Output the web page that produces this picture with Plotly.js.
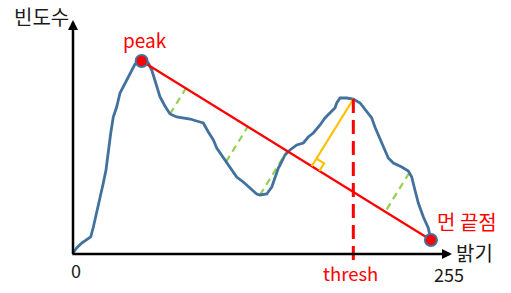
<!DOCTYPE html>
<html><head><meta charset="utf-8">
<script src="https://cdn.plot.ly/plotly-3.0.1.min.js"></script>
<style>html,body{margin:0;padding:0;background:#fff}#chart{width:511px;height:293px}</style>
</head><body><div id="chart"></div>
<script>
// ---- data ----
const brightness = [0,2.6,6.2,9.8,12.6,14.5,16.9,19.2,21.6,23.5,25.1,26.9,28.7,31.1,33.5,37.0,40.6,44.2,48.9,53.6,56.1,59.6,62.0,65.5,69.1,73.9,83.4,90.5,92.8,96.4,100.0,102.4,105.9,109.5,113.1,116.6,121.3,126.1,130.9,133.2,138.0,141.6,143.9,146.3,147.5,151.0,154.6,159.4,164.1,167.6,171.2,176.0,179.5,183.1,186.6,187.9,190.2,195.0,199.7,204.5,209.2,212.8,215.1,217.5,219.9,222.3,224.6,228.2,234.2,238.9,241.3,243.6,246.0,249.6,253.1,255];
const frequency  = [1,6,11,14,17,27,41,57,71,84,104,121,137,147,161,171,181,190,193,191,184,167,157,148,140,137,135,132,131,122,114,106,99,91,84,77,72,66,60,59,60,67,77,86,89,99,104,109,111,117,121,129,136,141,146,151,156,156,155,151,142,136,127,119,111,102,96,91,87,83,77,64,51,37,26,14];
const thresh = 199.7;
const perpFrom = [69.1, 109.0, 133.2, 239.6];
const xTickVals = [0, 255];
const xTickText = ['0', '255'];
const xTitle = '밝기';
const yTitle = '빈도수';
const peakLabel = 'peak';
const endLabel = '먼 끝점';
const threshLabel = 'thresh';

// ---- geometry ----
const W=511, H=293, L=73, R=59, T=20, B=23;
const xRange=[0,270], yRange=[-16,234];
const PW=W-L-R, PH=H-T-B;
const sx=PW/(xRange[1]-xRange[0]);
const sy=PH/(yRange[1]-yRange[0]);
const toPx=(x,y)=>[L+(x-xRange[0])*sx, T+(yRange[1]-y)*sy];
const toData=(px,py)=>[xRange[0]+(px-L)/sx, yRange[1]-(py-T)/sy];
function interp(x){
  for(let i=0;i<brightness.length-1;i++){
    if(x>=brightness[i]&&x<=brightness[i+1]){
      const t=(x-brightness[i])/(brightness[i+1]-brightness[i]);
      return frequency[i]+t*(frequency[i+1]-frequency[i]);
    }
  }
  return frequency[frequency.length-1];
}
let pk=0; frequency.forEach((v,i)=>{if(v>frequency[pk])pk=i;});
const en=brightness.length-1;
const A=toPx(brightness[pk],frequency[pk]), Bp=toPx(brightness[en],frequency[en]);
const d=[Bp[0]-A[0],Bp[1]-A[1]], dl=Math.hypot(d[0],d[1]);
function foot(x,y){
  const P=toPx(x,y);
  const t=((P[0]-A[0])*d[0]+(P[1]-A[1])*d[1])/(dl*dl);
  return [A[0]+t*d[0],A[1]+t*d[1]];
}
const gx=[],gy=[];
perpFrom.forEach(b=>{
  const y=interp(b); const F=toData(...foot(b,y));
  gx.push(b,F[0],null); gy.push(y,F[1],null);
});
const ty=interp(thresh);
const Fp=foot(thresh,ty); const Fd=toData(...Fp);
const Pp=toPx(thresh,ty);
const uy=[(Pp[0]-Fp[0]),(Pp[1]-Fp[1])]; const ul=Math.hypot(...uy); uy[0]/=ul; uy[1]/=ul;
const ur=[d[0]/dl,d[1]/dl];
const s=9;
const c1=toData(Fp[0]+s*uy[0],Fp[1]+s*uy[1]);
const c2=toData(Fp[0]+s*uy[0]+s*ur[0],Fp[1]+s*uy[1]+s*ur[1]);
const c3=toData(Fp[0]+s*ur[0],Fp[1]+s*ur[1]);
const threshBottom=toData(0,263)[1];

const blue='#41719c';
const traces=[
  {x:gx,y:gy,mode:'lines',line:{color:'#92d050',width:2.2,dash:'7px,5px'},hoverinfo:'skip'},
  {x:brightness,y:frequency,mode:'lines',line:{color:blue,width:2.8},hoverinfo:'skip'},
  {x:[brightness[pk],brightness[en]],y:[frequency[pk],frequency[en]],mode:'lines',line:{color:'#ff0000',width:2.2},hoverinfo:'skip'},
  {x:[thresh,Fd[0]],y:[ty,Fd[1]],mode:'lines',line:{color:'#ffc000',width:2.2},hoverinfo:'skip'},
  {x:[c1[0],c2[0],c3[0]],y:[c1[1],c2[1],c3[1]],mode:'lines',line:{color:'#ffc000',width:2.2},hoverinfo:'skip'},
  {x:[thresh,thresh],y:[ty,threshBottom],mode:'lines',line:{color:'#ff0000',width:3,dash:'14px,7px'},hoverinfo:'skip'},
  {x:[brightness[pk],brightness[en]],y:[frequency[pk],frequency[en]],mode:'markers',cliponaxis:false,
   marker:{size:12,color:'#ff0000',line:{color:blue,width:2}},hoverinfo:'skip'}
];

const kfont='Noto Sans CJK KR';
function txt(text,px,py,color,size){
  return {x:(px-L)/PW,y:1-(py-T)/PH,xref:'paper',yref:'paper',text:text,showarrow:false,xanchor:'center',yanchor:'middle',
    borderpad:0,font:{family:kfont,size:size,color:color}};
}
const xEnd=toData(452,0)[0], yEnd=toData(0,20)[1];
const annotations=[
  {x:xEnd,y:0,ax:-1.5,ay:0,axref:'x',ayref:'y',xref:'x',yref:'y',text:'',showarrow:true,arrowhead:2,arrowsize:0.8,arrowwidth:2.5,arrowcolor:'#000',standoff:0},
  {x:0,y:yEnd,ax:0,ay:-1.5,axref:'x',ayref:'y',xref:'x',yref:'y',text:'',showarrow:true,arrowhead:2,arrowsize:0.8,arrowwidth:2.5,arrowcolor:'#000',standoff:0},
  txt(yTitle,41,17,'#1a1a1a',20),
  txt(xTitle,474,252,'#1a1a1a',20),
  txt(peakLabel,145,40,'#ff0000',19),
  txt(endLabel,467,221,'#ff0000',20),
  txt(threshLabel,toPx(thresh,0)[0]-3,273,'#ff0000',18.5),
  txt(xTickText[0],toPx(xTickVals[0],0)[0]+2.5,270,'#1a1a1a',18),
  txt(xTickText[1],449,274,'#1a1a1a',18)
];

const layout={
  width:W,height:H,margin:{l:L,r:R,t:T,b:B,pad:0},
  paper_bgcolor:'#fff',plot_bgcolor:'#fff',showlegend:false,
  xaxis:{range:xRange,visible:false,fixedrange:true},
  yaxis:{range:yRange,visible:false,fixedrange:true},
  annotations:annotations
};
Plotly.newPlot('chart',traces,layout,{staticPlot:true,displayModeBar:false});
</script></body></html>
